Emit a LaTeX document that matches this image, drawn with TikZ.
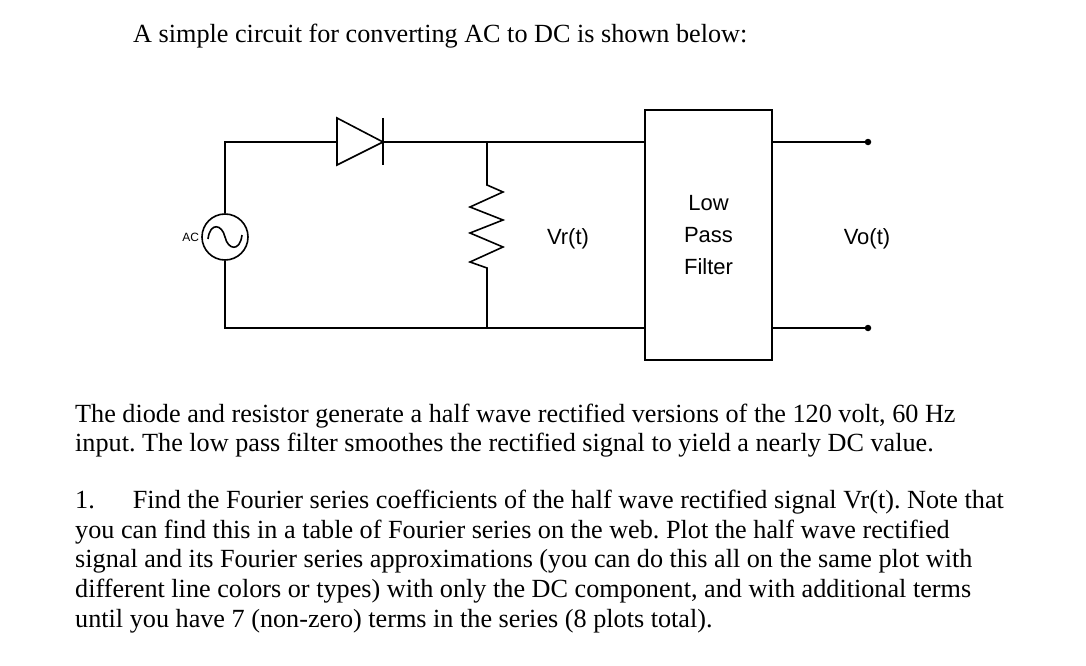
\documentclass[tikz,border=0pt]{standalone}
\usepackage{fontspec}
\setmainfont{Liberation Serif}
\newfontfamily\arialfont{Liberation Sans}
\frenchspacing
\begin{document}
\begin{tikzpicture} [
                x=1pt, y=-1pt,
                wire/.style = {draw,line width=1.6pt},
                lab/.style = {font=\arialfont\fontsize{22}{26}\selectfont, inner sep=0pt},
                para/.style = {font=\fontsize{26.2}{29}\selectfont, anchor=base west, inner sep=0pt},
                terminal/.style = {circle,fill=black,minimum size=6.5pt,inner sep=0pt},
            ]
            \useasboundingbox (0,0) rectangle (1086,666);
            % corners of the circuit
            \coordinate (tl) at (225,142);
            \coordinate (bl) at (225,328);
            \coordinate (rt) at (487,142);
            \coordinate (rb) at (487,328);
            \coordinate (da) at (337,142);
            \coordinate (dk) at (383,142);
            \node[draw,line width=1.6pt,circle,minimum size=46pt,inner sep=0pt] (src) at (225,237) {};
            \node[anchor=east,inner sep=2pt,font=\arialfont\fontsize{12}{14}\selectfont] (ac) at (src.west) {AC};
            \draw[line width=1.6pt] (208,239) .. controls (210,222) and (222,224) .. (225,237)
                .. controls (228,250) and (240,252) .. (242,235);
            \path[wire] (src.north) -- (tl) -- (da);
            \path[wire] (src.south) -- (bl) -- (rb);
            % diode
            \path[wire] (da) -- (337,118) -- (dk) -- (337,165) -- cycle;
            \path[wire] (383,118) -- (383,165);
            \path[wire] (dk) -- (rt) -- (487,185) -- (503,192) -- (470,207) -- (503,220)
                -- (470,233) -- (503,247) -- (470,262) -- (487,268) -- (rb);
            \node[lab] (vr) at (568,239) {Vr(t)};
            % filter
            \node[draw,line width=1.6pt,minimum width=127pt,minimum height=250pt,inner sep=0pt,
                  align=center,lab] (lpf) at (708.5,235) {Low\\[6pt]Pass\\[6pt]Filter};
            \path[wire] (rt) -- (645,142);
            \path[wire] (rb) -- (645,328);
            \node[terminal] (ot) at (868,142) {};
            \node[terminal] (ob) at (868,328) {};
            \path[wire] (772,142) -- (ot);
            \path[wire] (772,328) -- (ob);
            \node[lab] (vo) at (867,239) {Vo(t)};
            % text
            \node[para] (title) at (133,43) {A simple circuit for converting AC to DC is shown below:};
            \node[para] at (75,422) {The diode and resistor generate a half wave rectified versions of the 120 volt, 60 Hz};
            \node[para] at (75,451) {input. The low pass filter smoothes the rectified signal to yield a nearly DC value.};
            \node[para] at (75,508) {1.\hspace{38pt}Find the Fourier series coefficients of the half wave rectified signal Vr(t). Note that};
            \node[para] at (75,538) {you can find this in a table of Fourier series on the web. Plot the half wave rectified};
            \node[para] at (75,567) {signal and its Fourier series approximations (you can do this all on the same plot with};
            \node[para] at (75,597) {different line colors or types) with only the DC component, and with additional terms};
            \node[para] at (75,627) {until you have 7 (non-zero) terms in the series (8 plots total).};
        \end{tikzpicture}
\end{document}
